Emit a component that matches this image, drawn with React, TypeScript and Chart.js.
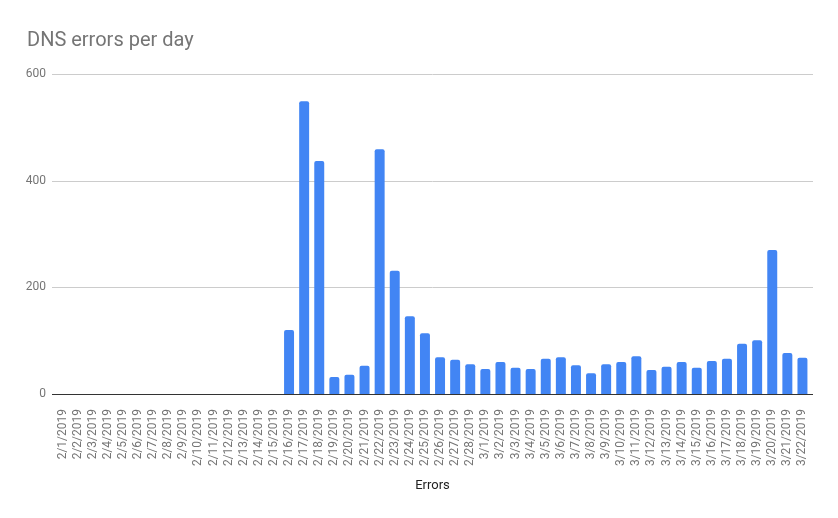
import React, { useEffect, useRef } from "react";
import { Chart, registerables } from "chart.js";

Chart.register(...registerables);

const categories: string[] = [
  "2/1/2019", "2/2/2019", "2/3/2019", "2/4/2019", "2/5/2019", "2/6/2019", "2/7/2019",
  "2/8/2019", "2/9/2019", "2/10/2019", "2/11/2019", "2/12/2019", "2/13/2019", "2/14/2019",
  "2/15/2019", "2/16/2019", "2/17/2019", "2/18/2019", "2/19/2019", "2/20/2019", "2/21/2019",
  "2/22/2019", "2/23/2019", "2/24/2019", "2/25/2019", "2/26/2019", "2/27/2019", "2/28/2019",
  "3/1/2019", "3/2/2019", "3/3/2019", "3/4/2019", "3/5/2019", "3/6/2019", "3/7/2019",
  "3/8/2019", "3/9/2019", "3/10/2019", "3/11/2019", "3/12/2019", "3/13/2019", "3/14/2019",
  "3/15/2019", "3/16/2019", "3/17/2019", "3/18/2019", "3/19/2019", "3/20/2019", "3/21/2019",
  "3/22/2019",
];

const errors: number[] = [
  0, 0, 0, 0, 0, 0, 0,
  0, 0, 0, 0, 0, 0, 0,
  0, 120, 549, 437, 32, 36, 53,
  459, 231, 146, 114, 69, 64, 56,
  47, 60, 49, 47, 66, 69, 54,
  39, 56, 60, 71, 45, 51, 60,
  49, 62, 66, 94, 101, 270, 77,
  68,
];

const yTicks: number[] = [0, 200, 400, 600];

const titleText = "DNS errors per day";
const seriesName = "Errors";

const titlePlugin = {
  id: "customTitle",
  afterDraw(chart: any) {
    const ctx = chart.ctx;
    ctx.save();
    ctx.font = "20px Roboto";
    ctx.fillStyle = "#757575";
    ctx.textAlign = "left";
    ctx.textBaseline = "alphabetic";
    ctx.fillText(titleText, 27, 46);
    ctx.restore();
  },
};

const gridPlugin = {
  id: "extGrid",
  beforeDatasetsDraw(chart: any) {
    const ctx = chart.ctx;
    const area = chart.chartArea;
    const y = chart.scales.y;
    ctx.save();
    yTicks.forEach((v) => {
      const py = Math.round(y.getPixelForValue(v)) + 0.5;
      ctx.strokeStyle = v === 0 ? "#333333" : "#cccccc";
      ctx.lineWidth = 1;
      ctx.beginPath();
      ctx.moveTo(area.left - 3, py);
      ctx.lineTo(area.right + 3, py);
      ctx.stroke();
    });
    ctx.restore();
  },
  afterDatasetsDraw(chart: any) {
    const ctx = chart.ctx;
    const area = chart.chartArea;
    const y = chart.scales.y;
    const py = Math.round(y.getPixelForValue(0)) + 0.5;
    ctx.save();
    ctx.strokeStyle = "#333333";
    ctx.lineWidth = 1;
    ctx.beginPath();
    ctx.moveTo(area.left - 3, py);
    ctx.lineTo(area.right + 3, py);
    ctx.stroke();
    ctx.restore();
  },
};

export default function App() {
  const ref = useRef<HTMLCanvasElement | null>(null);

  useEffect(() => {
    document.body.style.margin = "0";
    if (!ref.current) return;
    const chart = new Chart(ref.current, {
      type: "bar",
      data: {
        labels: categories,
        datasets: [
          {
            label: seriesName,
            data: errors,
            backgroundColor: "#4285F4",
            borderRadius: 2,
            borderSkipped: "start",
            barPercentage: 0.66,
            categoryPercentage: 1,
          },
        ],
      },
      options: {
        animation: false,
        responsive: false,
        maintainAspectRatio: false,
        layout: { padding: { left: 0, right: 28, top: 74, bottom: 0 } },
        plugins: {
          legend: { display: false },
          title: { display: false },
          tooltip: { enabled: false },
        },
        scales: {
          x: {
            grid: { display: false },
            border: { display: false },
            ticks: {
              autoSkip: false,
              maxRotation: 90,
              minRotation: 90,
              padding: 7,
              color: "#757575",
              font: { family: "Roboto", size: 12 },
            },
            title: {
              display: true,
              text: seriesName,
              color: "#222222",
              font: { family: "Roboto", size: 13 },
              padding: { top: 0, bottom: 24 },
            },
            afterFit: (scale: any) => {
              scale.height = 124;
            },
          },
          y: {
            min: 0,
            max: 600,
            afterBuildTicks: (scale: any) => {
              scale.ticks = yTicks.map((v) => ({ value: v }));
            },
            grid: { display: false, drawTicks: false },
            border: { display: false },
            ticks: {
              padding: 9,
              color: "#757575",
              font: { family: "Roboto", size: 12 },
            },
            afterFit: (scale: any) => {
              scale.width = 55;
            },
          },
        },
      },
      plugins: [titlePlugin, gridPlugin],
    });
    return () => chart.destroy();
  }, []);

  return <canvas ref={ref} width={838} height={518} style={{ display: "block" }} />;
}
